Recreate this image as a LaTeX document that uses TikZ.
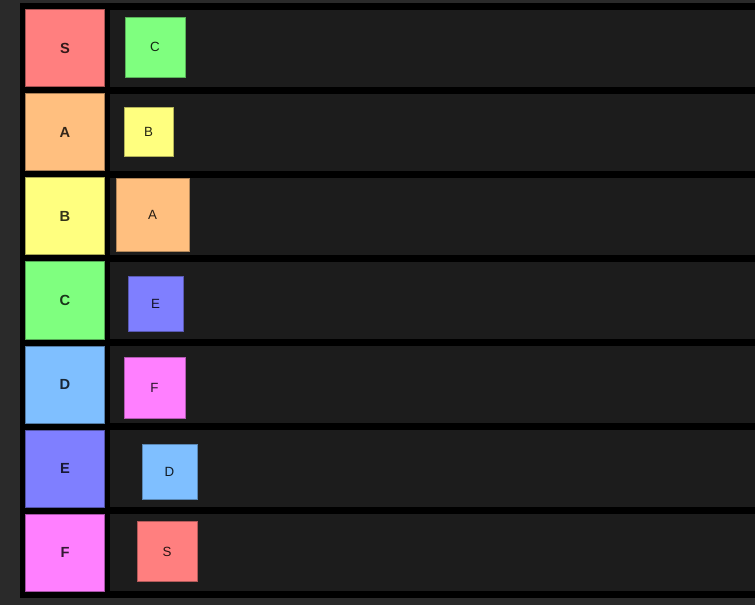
\documentclass[tikz,border=0pt]{standalone}
\usepackage{fontspec}
\setmainfont{Liberation Sans}

\definecolor{tierS}{HTML}{FF7F7F}
\definecolor{tierA}{HTML}{FFBF7F}
\definecolor{tierB}{HTML}{FFFF7F}
\definecolor{tierC}{HTML}{7FFF7F}
\definecolor{tierD}{HTML}{7FBFFF}
\definecolor{tierE}{HTML}{7F7FFF}
\definecolor{tierF}{HTML}{FF7FFF}
\definecolor{rowbg}{HTML}{1C1C1C}
\definecolor{outerbg}{HTML}{2A2A2A}

\tikzset{
  tier/.style={fill=#1, draw=#1!65!black, line width=0.75pt, inner sep=0pt,
    minimum width=59.25pt, minimum height=57.75pt,
    text=#1!20!black, font=\fontsize{11}{11}\selectfont\bfseries},
  tile/.style 2 args={fill=#1, draw=#1!70!black, line width=0.5pt, inner sep=0pt,
    minimum size=#2, text=#1!15!black, font=\fontsize{10}{10}\selectfont},
  tierrow/.style={fill=rowbg}
}

\begin{document}
\begin{tikzpicture}[x=0.75pt,y=-0.75pt]
\useasboundingbox (0,0) rectangle (755,605);
\fill[outerbg] (0,0) rectangle (755,605);
\fill[black] (20,3) rectangle (755,598);

% rows
\fill[tierrow] (110,10) rectangle (755,87);
\fill[tierrow] (110,94) rectangle (755,171);
\fill[tierrow] (110,178) rectangle (755,255);
\fill[tierrow] (110,262) rectangle (755,339);
\fill[tierrow] (110,346) rectangle (755,423);
\fill[tierrow] (110,430) rectangle (755,507);
\fill[tierrow] (110,514) rectangle (755,591);

% tier labels
\node[tier=tierS] (labelS) at (65,48.5) {S};
\node[tier=tierA] (labelA) at (65,132.5) {A};
\node[tier=tierB] (labelB) at (65,216.5) {B};
\node[tier=tierC] (labelC) at (65,300.5) {C};
\node[tier=tierD] (labelD) at (65,384.5) {D};
\node[tier=tierE] (labelE) at (65,468.5) {E};
\node[tier=tierF] (labelF) at (65,552.5) {F};

% ranked items
\node[tile={tierC}{45pt}] (itemC) at (155,47) {C};
\node[tile={tierB}{36.75pt}] (itemB) at (148.5,131.5) {B};
\node[tile={tierA}{55pt}] (itemA) at (152.5,215) {A};
\node[tile={tierE}{41.25pt}] (itemE) at (155.5,303.5) {E};
\node[tile={tierF}{45.75pt}] (itemF) at (154.5,387.5) {F};
\node[tile={tierD}{41.25pt}] (itemD) at (169.5,471.5) {D};
\node[tile={tierS}{45pt}] (itemS) at (167,551.5) {S};

\end{tikzpicture}
\end{document}
